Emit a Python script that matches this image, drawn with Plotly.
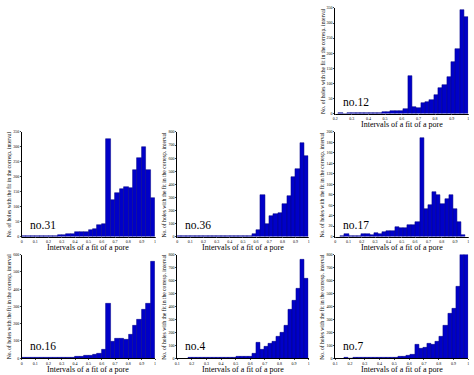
import plotly.graph_objects as go

# ---- data (30-bin histograms) ----
names = ["no.12", "no.31", "no.36", "no.17", "no.16", "no.4", "no.7"]
bin_start = [0.22, 0.0, 0.0, 0.04, 0.0, 0.175, 0.163]
bin_width = [0.026, 1/30, 1/30, 0.0313, 1/30, 0.0275, 0.0279]

counts_12 = [1, 0, 1, 2, 1, 1, 2, 1, 1, 2, 4, 5, 7, 8, 10, 15, 126,
             22, 20, 34, 40, 45, 62, 84, 95, 120, 170, 214, 344, 319]
counts_31 = [2, 1, 1, 1, 1, 2, 3, 3, 4, 5, 7, 10, 14, 15, 16, 22, 24, 40, 43,
             325, 121, 145, 160, 166, 161, 223, 262, 301, 224, 130]
counts_36 = [3, 2, 1, 1, 2, 1, 2, 3, 3, 2, 3, 4, 5, 5, 4, 6, 8, 20, 50,
             315, 100, 156, 171, 184, 246, 313, 457, 515, 716, 614]
counts_17 = [1, 4, 2, 1, 2, 5, 4, 3, 6, 4, 9, 10, 11, 18, 17, 16, 23, 23, 27,
             188, 52, 60, 85, 79, 63, 72, 79, 52, 28, 3]
counts_16 = [1, 1, 2, 1, 2, 2, 3, 3, 4, 5, 5, 6, 11, 10, 14, 15, 19, 29, 48,
             314, 97, 112, 114, 110, 138, 190, 225, 282, 318, 560]
counts_4 = [1, 1, 1, 1, 2, 2, 3, 4, 4, 5, 6, 8, 10, 10, 12, 14, 38,
            118, 68, 88, 114, 128, 165, 195, 254, 376, 446, 536, 758, 615]
counts_7 = [1, 0, 1, 1, 1, 2, 2, 3, 3, 4, 5, 6, 7, 9, 12, 18, 28,
            102, 76, 84, 114, 104, 130, 165, 250, 345, 383, 552, 800, 800]
all_counts = [counts_12, counts_31, counts_36, counts_17, counts_16, counts_4, counts_7]

x_ranges = [[0.2, 1], [0, 1], [0, 1], [0, 1], [0, 1], [0.1, 1], [0.1, 1]]
y_ranges = [[0, 350], [0, 350], [0, 800], [0, 200], [0, 600], [0, 800], [0, 800]]
y_dticks = [50, 50, 100, 20, 100, 100, 100]

x_title = "Intervals of a fit of a pore"
y_title = "No. of holes with the fit in the corresp. interval"

# ---- layout geometry (pixels) ----
W, H = 474, 375
col_px = [(19, 153.3), (175.7, 308.3), (335, 469.3)]
row_px = [(5, 112), (130.7, 236.7), (255, 360)]
panel_pos = [(2, 0), (0, 1), (1, 1), (2, 1), (0, 2), (1, 2), (2, 2)]

FONT = "Liberation Serif, Times New Roman, serif"
fig = go.Figure()
layout = dict(width=W, height=H, autosize=False, margin=dict(l=0, r=0, t=0, b=0),
              paper_bgcolor="white", plot_bgcolor="white", showlegend=False,
              bargap=0, font=dict(family=FONT, color="black"))
annotations = []

for i, name in enumerate(names):
    c, r = panel_pos[i]
    x0, x1 = col_px[c]
    ytop, ybot = row_px[r]
    xd = [x0 / W, x1 / W]
    yd = [1 - ybot / H, 1 - ytop / H]
    idx = "" if i == 0 else str(i + 1)
    xa, ya = "x" + idx, "y" + idx
    cnt = all_counts[i]
    centers = [bin_start[i] + (k + 0.5) * bin_width[i] for k in range(len(cnt))]
    fig.add_trace(go.Bar(x=centers, y=cnt, width=bin_width[i], xaxis=xa, yaxis=ya,
                         marker=dict(color="#0000C8", line=dict(color="#000080", width=0.5))))
    layout["xaxis" + idx] = dict(domain=xd, anchor=ya, range=x_ranges[i], dtick=0.1,
                                 tick0=0, showgrid=False, zeroline=False, showline=True,
                                 linecolor="black", linewidth=0.8, ticks="outside",
                                 ticklen=1, tickwidth=0.6, tickfont=dict(size=4, family=FONT))
    layout["yaxis" + idx] = dict(domain=yd, anchor=xa, range=y_ranges[i], dtick=y_dticks[i],
                                 showgrid=False, zeroline=False, showline=True,
                                 linecolor="black", linewidth=0.8, ticks="outside",
                                 ticklen=1, tickwidth=0.6, tickfont=dict(size=4, family=FONT))
    # x title
    annotations.append(dict(text=x_title, xref="paper", yref="paper",
                            x=(x0 + x1) / 2 / W, y=1 - (ybot + 11.5) / H,
                            showarrow=False, font=dict(size=8, family=FONT),
                            xanchor="center", yanchor="middle"))
    # y title
    annotations.append(dict(text=y_title, xref="paper", yref="paper",
                            x=(x0 - 13) / W, y=1 - (ytop + ybot) / 2 / H, textangle=-90,
                            showarrow=False, font=dict(size=5.6, family=FONT),
                            xanchor="center", yanchor="middle"))
    # panel label
    annotations.append(dict(text=name, xref="paper", yref="paper",
                            x=(x0 + 6) / W, y=1 - (ybot - 4) / H,
                            showarrow=False, font=dict(size=11.5, family=FONT),
                            xanchor="left", yanchor="bottom"))

layout["annotations"] = annotations
fig.update_layout(**layout)
fig.write_html("out.html", config={"displayModeBar": False},
               post_script="document.body.style.margin='0';document.body.style.overflow='hidden';")
